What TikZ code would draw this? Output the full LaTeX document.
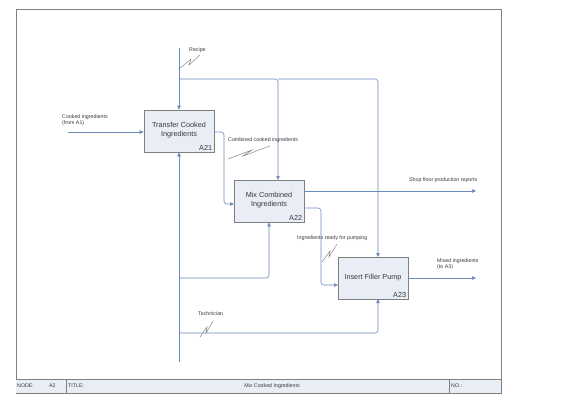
\documentclass[tikz,border=0pt]{standalone}
\usepackage{fontspec}
\setmainfont{Liberation Sans}
\usetikzlibrary{arrows.meta}
\definecolor{flow}{HTML}{6A8BBE}
\definecolor{boxfill}{HTML}{E8EDF6}
\definecolor{boxline}{HTML}{7F7F7F}
\definecolor{txt}{HTML}{3A3A3A}
\begin{document}
\begin{tikzpicture}[x=1bp,y=-1bp,
  actbox/.style={draw=boxline,fill=boxfill,line width=0.7bp,minimum width=70bp,minimum height=42bp,inner sep=0pt,align=center,font=\fontsize{7.3}{8.5}\selectfont,text=txt},
  lbl/.style={font=\fontsize{5.3}{6.3}\selectfont,text=txt,inner sep=0pt,align=left},
  flowline/.style={draw=flow,line width=0.6bp,rounded corners=3bp},
  arr/.style={flowline,-{Triangle[length=4bp,width=3.5bp]}},
  sq/.style={draw=txt!70,line width=0.4bp},
  foot/.style={font=\fontsize{5.3}{6.3}\selectfont,text=txt,inner sep=0pt}]
\useasboundingbox (0,0) rectangle (561,405);
\fill[white] (0,0) rectangle (561,405);
% frame
\draw[boxline,line width=0.7bp] (16,9) rectangle (501,393);
\fill[boxfill] (16,379) rectangle (501,393);
\draw[boxline,line width=0.7bp] (16,379) -- (501,379) (66,379) -- (66,393) (449,379) -- (449,393) (16,393)--(501,393);
\node[foot,anchor=west] (fnode) at (17,386) {NODE:};
\node[foot,anchor=west] (fa2) at (49,386) {A2};
\node[foot,anchor=west] (ftitle) at (68,386) {TITLE:};
\node[foot] (fname) at (272,386) {Mix Cooked Ingredients};
\node[foot,anchor=west] (fno) at (451,386) {NO.:};
% boxes
\node[actbox,label={[lbl,font=\fontsize{7.3}{8}\selectfont,anchor=south east,inner sep=2bp]south east:A21}] (a21) at (179,131) {\raisebox{3bp}{\shortstack{Transfer Cooked\\Ingredients}}};
\node[actbox,label={[lbl,font=\fontsize{7.3}{8}\selectfont,anchor=south east,inner sep=2bp]south east:A22}] (a22) at (269,201) {\raisebox{3bp}{\shortstack{Mix Combined\\Ingredients}}};
\node[actbox,label={[lbl,font=\fontsize{7.3}{8}\selectfont,anchor=south east,inner sep=2bp]south east:A23}] (a23) at (373,278) {\raisebox{3bp}{Insert Filler Pump}};
% coordinates
\coordinate (rtop) at (179,48);
\coordinate (cin) at (68,132);
\coordinate (mbot) at (179,362);
\coordinate (shop) at (476,191);
\coordinate (mixout) at (476,278);
% control: recipe
\draw[arr] (rtop) -- (a21.north);
\draw[arr] (179,79) -- (278,79) -- (278,180);
\draw[arr] (278,79) -- (378,79) -- (378,257);
% input
\draw[arr] (cin) -- (a21.west |- cin);
% A21 -> A22
\draw[arr] (214,132) -- (224,132) -- (224,204) -- (234,204);
% A22 outputs
\draw[arr] (304,191) -- (shop);
\draw[arr] (304,208) -- (321,208) -- (321,285) -- (338,285);
% A23 output
\draw[arr] (408,278) -- (mixout);
% mechanism
\draw[arr] (mbot) -- (a21.south);
\draw[arr] (179,278) -- (269,278) -- (a22.south);
\draw[arr] (179,333) -- (378,333) -- (378,299);
% labels
\node[lbl,anchor=west] (lrecipe) at (189,50) {Recipe};
\node[lbl,anchor=west] (lcook) at (62,120) {Cooked ingredients\\(from A1)};
\node[lbl,anchor=west] (lcomb) at (228,140) {Combined cooked ingredients};
\node[lbl,anchor=west] (lshop) at (409,180) {Shop floor production reports};
\node[lbl,anchor=west] (lready) at (297,238) {Ingredients ready for pumping};
\node[lbl,anchor=west] (lmix) at (437,264) {Mixed ingredients\\ (to A3)};
\node[lbl,anchor=west] (ltech) at (198,314) {Technician};
% squiggles
\draw[sq] (179,69) -- (191,59) -- (189,65) -- (200,55);
\draw[sq] (228,159) -- (252,150) -- (243,156) -- (270,146);
\draw[sq] (322,262) -- (330,251) -- (329,257) -- (337,244);
\draw[sq] (200,337) -- (207,327) -- (206,333) -- (213,321);
\end{tikzpicture}
\end{document}
